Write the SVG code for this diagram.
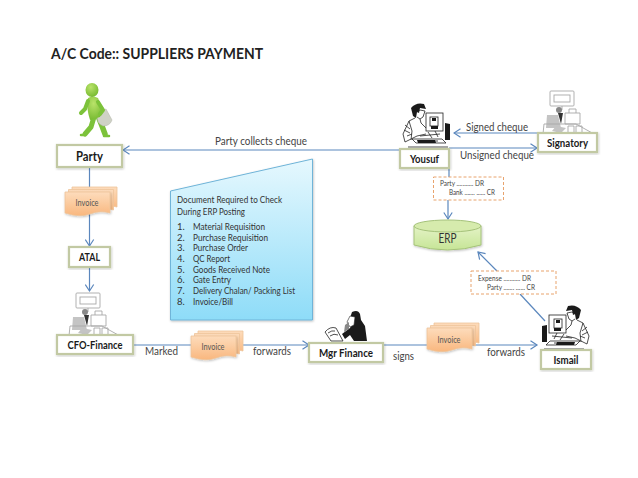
<svg xmlns="http://www.w3.org/2000/svg" xmlns:xlink="http://www.w3.org/1999/xlink" width="638" height="478" viewBox="0 0 638 478">
<style>
text{font-family:Lato,"Liberation Sans",sans-serif;fill:#333}
.box{fill:#fff;stroke:#c2c9a3;stroke-width:2.2;filter:url(#sh)}
.nl{font-weight:700;fill:#1a1a1a;text-anchor:middle}
.lab{font-size:11.500px;fill:#444}
.c{fill:none;stroke:#5b87bd;stroke-width:1.200}
.ca{marker-end:url(#arr)}
.dash{fill:#fff;stroke:#e8a36d;stroke-width:1;stroke-dasharray:3 2}
.tiny{font-size:7.500px;fill:#444}
.inv{font-size:8.500px;fill:#555;text-anchor:middle}
.sheet{fill:url(#org);stroke:#eec49b;stroke-width:.8}
.pan{font-size:9.500px;fill:#333}
.ink{fill:none;stroke:#222;stroke-width:.8}
.blk{fill:#1a1a1a}
.gl{fill:none;stroke:#a8a8a8;stroke-width:.9}
.gf{fill:#c4c4c4}
.limb{fill:none;stroke:#7cc23a;stroke-linecap:round;stroke-linejoin:round}
</style>
<defs>
<filter id="sh" x="-15%" y="-15%" width="130%" height="130%"><feDropShadow dx=".6" dy="1" stdDeviation=".9" flood-color="#000" flood-opacity=".25"/></filter>
<marker id="arr" markerWidth="9" markerHeight="10" refX="7.500" refY="5" orient="auto" markerUnits="userSpaceOnUse"><path d="M1 .8L7.500 5L1 9.200" fill="none" stroke="#5b87bd" stroke-width="1.200"/></marker>
<linearGradient id="org" x1="0" y1="0" x2="0" y2="1"><stop offset="0" stop-color="#fddcbc"/><stop offset="1" stop-color="#f9b77e"/></linearGradient>
<linearGradient id="blue" x1="0" y1="0" x2="0" y2="1"><stop offset="0" stop-color="#e6f8fe"/><stop offset="1" stop-color="#8edcf8"/></linearGradient>
<linearGradient id="grn" x1="0" y1="0" x2="0" y2="1"><stop offset="0" stop-color="#e4f3c6"/><stop offset="1" stop-color="#c6e596"/></linearGradient>
<radialGradient id="man" cx=".4" cy=".3" r=".8"><stop offset="0" stop-color="#b9e36a"/><stop offset="1" stop-color="#6fb52a"/></radialGradient>
<g id="stack">
<path class="sheet" d="M7 0H52V20Q42 17 34 21T7 20Z"/>
<path class="sheet" d="M3.500 2.500H48.500V23Q38 20 30 24T3.500 23Z"/>
<path class="sheet" d="M0 5H45V26Q35 23 25 27T0 26Z" filter="url(#sh)"/>
</g>
<g id="gray">
<rect class="gl" x="6" y="0" width="24" height="15" rx="1"/>
<rect class="gl" x="10" y="4" width="16" height="7"/>
<path class="gl" d="M18 15V19"/>
<circle cx="15" cy="19" r="3" fill="#888"/>
<path class="gf" d="M3 24H14L17 37H2Z"/>
<path d="M14 22L17 33L19 22Z" fill="#333"/>
<path class="gl" d="M21 22H36V33H21ZM25 22V18H32V22M0 33H32L50 43H-1Z"/>
<path class="gf" d="M12 35L22 37L17 42L8 40Z"/>
<path class="gl" d="M24 35H30V42H24ZM32 35H38V42H32Z"/>
</g>
<g id="clerk">
<path class="blk" d="M9 5Q14-1 22 1L24 6L18 5L17 10L15 9L14 15L11 13Z"/>
<path class="ink" d="M15 9L18 7L23 8L21 14L18 16L15 14M18 16L19 20L24 25M13 15L7 18L1 31L3 39M7 18L10 28L9 37M3 39L15 33L24 31"/>
<path class="ink" d="M3 22L8 26M2 27L8 30M5 33L10 31"/>
<rect class="ink" x="24" y="10" width="17" height="18"/>
<rect class="ink" x="28" y="14" width="8" height="9"/>
<path class="blk" d="M30 15H34V18H30ZM29 23H36V26H29Z"/>
<path class="blk" d="M43 20L48 21V37H43Z"/>
<path class="ink" d="M10 36H40L44 40H14ZM18 33L38 31M26 29L30 35M33 28L36 34M16 38H36M6 44H46"/>
<path d="M15 37H33L34 40H16Z" class="blk"/>
</g>
</defs>

<rect width="638" height="478" fill="#fff"/>
<text x="51" y="59" font-size="15" font-weight="700" style="fill:#222" textLength="212" lengthAdjust="spacingAndGlyphs">A/C Code:: SUPPLIERS PAYMENT</text>

<g id="connectors">
<path class="c ca" d="M400 150H123"/>
<path class="c ca" d="M89.500 167V246"/>
<path class="c ca" d="M89.500 267V291"/>
<path class="c ca" d="M133 345H309"/>
<path class="c ca" d="M383 345H537"/>
<path class="c ca" d="M538 133H454"/>
<path class="c ca" d="M449 148H537"/>
<path class="c" d="M449 168V177"/>
<path class="c ca" d="M448 200V219"/>
<path class="c ca" d="M497 271L478 252"/>
<path class="c" d="M520 294L545 321"/>
</g>

<g id="party-figure">
<path class="limb" stroke-width="5" d="M94 117L91 127L85 134"/>
<path class="limb" stroke-width="5.500" d="M98 116L102 126L105 134"/>
<path class="limb" stroke-width="2.500" d="M85 135H81M104 136H109"/>
<path d="M97 112L106 109L112 120Q110 126 103 126Q96 124 97 112Z" fill="#cfd2c6" stroke="#b0b3a6" stroke-width=".5"/>
<path d="M88 98Q93 95 98 98L103 110L100 117L90 120Q86 108 88 98Z" fill="url(#man)"/>
<path class="limb" stroke-width="4" d="M88 101L85 109L81 113"/>
<path class="limb" stroke-width="4" d="M98 102L103 110L100 114"/>
<ellipse cx="92" cy="90" rx="6.500" ry="7" fill="url(#man)"/>
</g>
<g id="party"><rect class="box" x="57" y="145" width="65" height="22"/><text class="nl" x="89.500" y="161" font-size="13" textLength="27" lengthAdjust="spacingAndGlyphs">Party</text></g>

<g id="invoice-1"><use xlink:href="#stack" href="#stack" x="65" y="187"/><text class="inv" x="87" y="206" textLength="23" lengthAdjust="spacingAndGlyphs">Invoice</text></g>
<g id="atal"><rect class="box" x="69" y="247" width="41" height="20"/><text class="nl" x="89.500" y="261" font-size="10.500" textLength="21" lengthAdjust="spacingAndGlyphs">ATAL</text></g>

<use id="cfo-figure" href="#gray" xlink:href="#gray" transform="translate(70 293)"/>
<g id="cfo-finance"><rect class="box" x="57" y="335" width="76" height="19"/><text class="nl" x="95" y="349" font-size="11" textLength="55" lengthAdjust="spacingAndGlyphs">CFO-Finance</text></g>

<g id="requirements">
<path d="M170.500 191L312.500 159V320H170.500Z" fill="url(#blue)" stroke="#6fb4d8" stroke-width="1" filter="url(#sh)"/>
<text class="pan" x="177" y="203" textLength="105" lengthAdjust="spacingAndGlyphs">Document Required to Check</text>
<text class="pan" x="177" y="214.500" textLength="68" lengthAdjust="spacingAndGlyphs">During ERP Posting</text>
<text class="pan" x="177" y="230">1.</text><text class="pan" x="193" y="230" textLength="72" lengthAdjust="spacingAndGlyphs">Material Requisition</text>
<text class="pan" x="177" y="240.600">2.</text><text class="pan" x="193" y="240.600" textLength="75" lengthAdjust="spacingAndGlyphs">Purchase Requisition</text>
<text class="pan" x="177" y="251.300">3.</text><text class="pan" x="193" y="251.300" textLength="55" lengthAdjust="spacingAndGlyphs">Purchase Order</text>
<text class="pan" x="177" y="262">4.</text><text class="pan" x="193" y="262" textLength="37" lengthAdjust="spacingAndGlyphs">QC Report</text>
<text class="pan" x="177" y="272.600">5.</text><text class="pan" x="193" y="272.600" textLength="77" lengthAdjust="spacingAndGlyphs">Goods Received Note</text>
<text class="pan" x="177" y="283.300">6.</text><text class="pan" x="193" y="283.300" textLength="38" lengthAdjust="spacingAndGlyphs">Gate Entry</text>
<text class="pan" x="177" y="294">7.</text><text class="pan" x="193" y="294" textLength="102" lengthAdjust="spacingAndGlyphs">Delivery Chalan/ Packing List</text>
<text class="pan" x="177" y="304.600">8.</text><text class="pan" x="193" y="304.600" textLength="40" lengthAdjust="spacingAndGlyphs">Invoice/Bill</text>
</g>

<g id="invoice-2"><use href="#stack" xlink:href="#stack" x="191" y="331"/><text class="inv" x="213" y="350" textLength="23" lengthAdjust="spacingAndGlyphs">Invoice</text></g>

<g id="mgr-figure">
<path class="ink" d="M325 332Q330 326 336 328L343 341H331Z"/>
<path class="ink" d="M328 333Q332 330 335 331M330 336Q334 333 338 335"/>
<path class="blk" d="M352 312Q358 309 360 314L361 320L365 326L367 341H354L350 335L345 339L342 334L350 328L353 322L350 318Z"/>
<path d="M350 316L355 317L354 325L350 327L347 322Z" fill="#fff" stroke="#222" stroke-width=".6"/>
<path d="M345 325L349 322L349 329L344 332Z" fill="#888"/>
</g>
<g id="mgr-finance"><rect class="box" x="309" y="343" width="74" height="19"/><text class="nl" x="346" y="357" font-size="11" textLength="54" lengthAdjust="spacingAndGlyphs">Mgr Finance</text></g>

<g id="invoice-3"><use href="#stack" xlink:href="#stack" x="427" y="323"/><text class="inv" x="449" y="343" textLength="23" lengthAdjust="spacingAndGlyphs">Invoice</text></g>

<use id="ismail-figure" href="#clerk" xlink:href="#clerk" transform="translate(590 305) scale(-1 1)"/>
<g id="ismail"><rect class="box" x="541" y="350" width="50" height="19"/><text class="nl" x="566" y="364" font-size="11" textLength="25" lengthAdjust="spacingAndGlyphs">Ismail</text></g>

<use id="yousuf-figure" href="#clerk" xlink:href="#clerk" transform="translate(402 103)"/>
<g id="yousuf"><rect class="box" x="400" y="149" width="49" height="19"/><text class="nl" x="424.500" y="163" font-size="11" textLength="29" lengthAdjust="spacingAndGlyphs">Yousuf</text></g>

<use id="signatory-figure" href="#gray" xlink:href="#gray" transform="translate(544 91)"/>
<g id="signatory"><rect class="box" x="538" y="133" width="59" height="19"/><text class="nl" x="567.500" y="147" font-size="11" textLength="41" lengthAdjust="spacingAndGlyphs">Signatory</text></g>

<g id="entry-1"><rect class="dash" x="433.500" y="177" width="70" height="23"/><text class="tiny" x="440" y="186" textLength="44" lengthAdjust="spacingAndGlyphs">Party ........... DR</text><text class="tiny" x="449" y="195" textLength="46" lengthAdjust="spacingAndGlyphs">Bank ....... ...... CR</text></g>
<g id="erp">
<path d="M414 226V245Q447.500 255 481 245V226Z" fill="url(#grn)" stroke="#a5c27a" stroke-width="1" filter="url(#sh)"/>
<ellipse cx="447.500" cy="226" rx="33.500" ry="6" fill="#d6ebad" stroke="#a5c27a" stroke-width="1"/>
<text x="447.500" y="243" font-size="12.500" text-anchor="middle" textLength="18" lengthAdjust="spacingAndGlyphs">ERP</text>
</g>
<g id="entry-2"><rect class="dash" x="471" y="271" width="85" height="23"/><text class="tiny" x="478" y="281" textLength="53" lengthAdjust="spacingAndGlyphs">Expense ........... DR</text><text class="tiny" x="487" y="290" textLength="48" lengthAdjust="spacingAndGlyphs">Party ....... ...... CR</text></g>

<g id="labels">
<text class="lab" x="215" y="145" textLength="92" lengthAdjust="spacingAndGlyphs">Party collects cheque</text>
<text class="lab" x="466" y="131" textLength="62" lengthAdjust="spacingAndGlyphs">Signed cheque</text>
<text class="lab" x="460" y="159" textLength="74" lengthAdjust="spacingAndGlyphs">Unsigned cheque</text>
<text class="lab" x="145" y="355" textLength="33" lengthAdjust="spacingAndGlyphs">Marked</text>
<text class="lab" x="253" y="355" textLength="38" lengthAdjust="spacingAndGlyphs">forwards</text>
<text class="lab" x="393" y="360" textLength="21" lengthAdjust="spacingAndGlyphs">signs</text>
<text class="lab" x="487" y="356" textLength="38" lengthAdjust="spacingAndGlyphs">forwards</text>
</g>
</svg>
